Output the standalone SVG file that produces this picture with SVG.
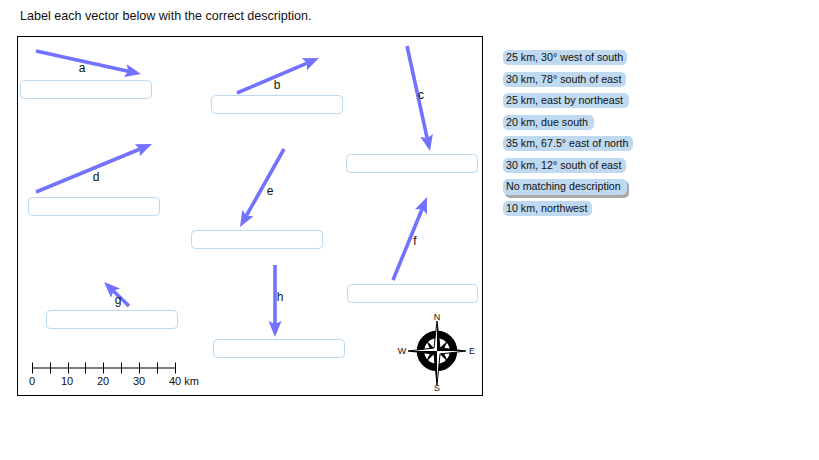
<svg xmlns="http://www.w3.org/2000/svg" width="819" height="460" viewBox="0 0 819 460">
<style>
text{font-family:"Liberation Sans",Arial,sans-serif;fill:#111}
.t{font-size:12px;text-anchor:middle}
.c{font-size:10.700px}
.k{font-size:11px}
.v{fill:none;stroke:#7272ff;stroke-width:3.600px}
.h{fill:#7272ff}
.b{fill:#fff;stroke:#bcd9f2;stroke-width:1}
.p{fill:#bfd9f0}
.s{stroke:#000;stroke-width:1;fill:none}
.n{font-size:9px;text-anchor:middle}
</style>
<defs>
<marker id="ah" markerUnits="userSpaceOnUse" markerWidth="18" markerHeight="14" refX="3" refY="6.500" orient="auto"><path d="M0 0L16 6.500L0 13L3 6.500Z" class="h"/></marker>
</defs>
<rect width="819" height="460" fill="#fff"/>
<text x="20" y="20" font-size="12.550">Label each vector below with the correct description.</text>
<rect x="17.500" y="36.500" width="465" height="359" fill="#fff" stroke="#000"/>
<g id="connectors">
<line class="v" x1="36" y1="51" x2="128.300" y2="71.200" marker-end="url(#ah)"/>
<line class="v" x1="237" y1="93" x2="307.100" y2="63.100" marker-end="url(#ah)"/>
<line class="v" x1="407" y1="46" x2="427.200" y2="138.300" marker-end="url(#ah)"/>
<line class="v" x1="36" y1="192" x2="140" y2="149" marker-end="url(#ah)"/>
<line class="v" x1="284" y1="149" x2="246.400" y2="215.700" marker-end="url(#ah)"/>
<line class="v" x1="393" y1="280" x2="422.100" y2="209" marker-end="url(#ah)"/>
<line class="v" x1="129" y1="306" x2="113.400" y2="291" marker-end="url(#ah)"/>
<line class="v" x1="275" y1="265" x2="275" y2="324" marker-end="url(#ah)"/>
</g>
<g id="node-a"><rect class="b" x="20.500" y="80.500" width="131" height="18" rx="4"/><text class="t" x="82" y="72">a</text></g>
<g id="node-b"><rect class="b" x="211.500" y="95.500" width="131" height="18" rx="4"/><text class="t" x="277" y="89">b</text></g>
<g id="node-c"><rect class="b" x="346.500" y="154.500" width="131" height="18" rx="4"/><text class="t" x="421" y="99">c</text></g>
<g id="node-d"><rect class="b" x="28.500" y="197.500" width="131" height="18" rx="4"/><text class="t" x="96" y="181">d</text></g>
<g id="node-e"><rect class="b" x="191.500" y="230.500" width="131" height="18" rx="4"/><text class="t" x="270" y="195">e</text></g>
<g id="node-f"><rect class="b" x="347.500" y="284.500" width="130" height="18" rx="4"/><text class="t" x="415" y="245">f</text></g>
<g id="node-g"><rect class="b" x="46.500" y="310.500" width="131" height="18" rx="4"/><text class="t" x="118" y="304">g</text></g>
<g id="node-h"><rect class="b" x="213.500" y="339.500" width="131" height="18" rx="4"/><text class="t" x="280" y="301">h</text></g>
<g id="scale">
<path class="s" d="M32.500 368H175.500M32.500 362.500v11M50.500 362.500v11M68.500 362.500v11M85.500 362.500v11M103.500 362.500v11M121.500 362.500v11M139.500 362.500v11M157.500 362.500v11M175.500 362.500v11"/>
<text class="k" x="32" y="385" text-anchor="middle">0</text>
<text class="k" x="67" y="385" text-anchor="middle">10</text>
<text class="k" x="103" y="385" text-anchor="middle">20</text>
<text class="k" x="139" y="385" text-anchor="middle">30</text>
<text class="k" x="169" y="385">40 km</text>
</g>
<g id="compass">
<circle cx="437" cy="351" r="16.500" fill="none" stroke="#000" stroke-width="7.500"/>
<path d="M437 351L426 340L431 351L426 362ZM437 351L448 340L443 351L448 362Z" fill="#000"/>
<path d="M437 321L440 348L466 351L440 354L437 385L434 354L408 351L434 348Z" fill="#fff" stroke="#000" stroke-width="1"/>
<path d="M437 321L437 351L466 351L440 348ZM437 385L437 351L408 351L434 354Z" fill="#000"/>
<text class="n" x="437" y="320">N</text><text class="n" x="437" y="391">S</text><text class="n" x="472" y="354">E</text><text class="n" x="402" y="354">W</text>
</g>
<g id="choices">
<g id="choice-1"><rect class="p" x="503" y="50" width="124" height="15" rx="5"/><text class="c" x="506" y="61">25 km, 30° west of south</text></g>
<g id="choice-2"><rect class="p" x="503" y="72" width="123" height="15" rx="5"/><text class="c" x="506" y="83">30 km, 78° south of east</text></g>
<g id="choice-3"><rect class="p" x="503" y="93" width="126" height="15" rx="5"/><text class="c" x="506" y="104">25 km, east by northeast</text></g>
<g id="choice-4"><rect class="p" x="503" y="115" width="91" height="15" rx="5"/><text class="c" x="506" y="126">20 km, due south</text></g>
<g id="choice-5"><rect class="p" x="503" y="136" width="130" height="15" rx="5"/><text class="c" x="506" y="147">35 km, 67.5° east of north</text></g>
<g id="choice-6"><rect class="p" x="503" y="158" width="123" height="15" rx="5"/><text class="c" x="506" y="169">30 km, 12° south of east</text></g>
<g id="choice-7"><rect x="505" y="181" width="124" height="17" rx="5" fill="#aaa"/><rect class="p" x="503" y="179" width="124" height="16" rx="5"/><text class="c" x="506" y="190">No matching description</text></g>
<g id="choice-8"><rect class="p" x="503" y="201" width="89" height="15" rx="5"/><text class="c" x="506" y="212">10 km, northwest</text></g>
</g>
</svg>
